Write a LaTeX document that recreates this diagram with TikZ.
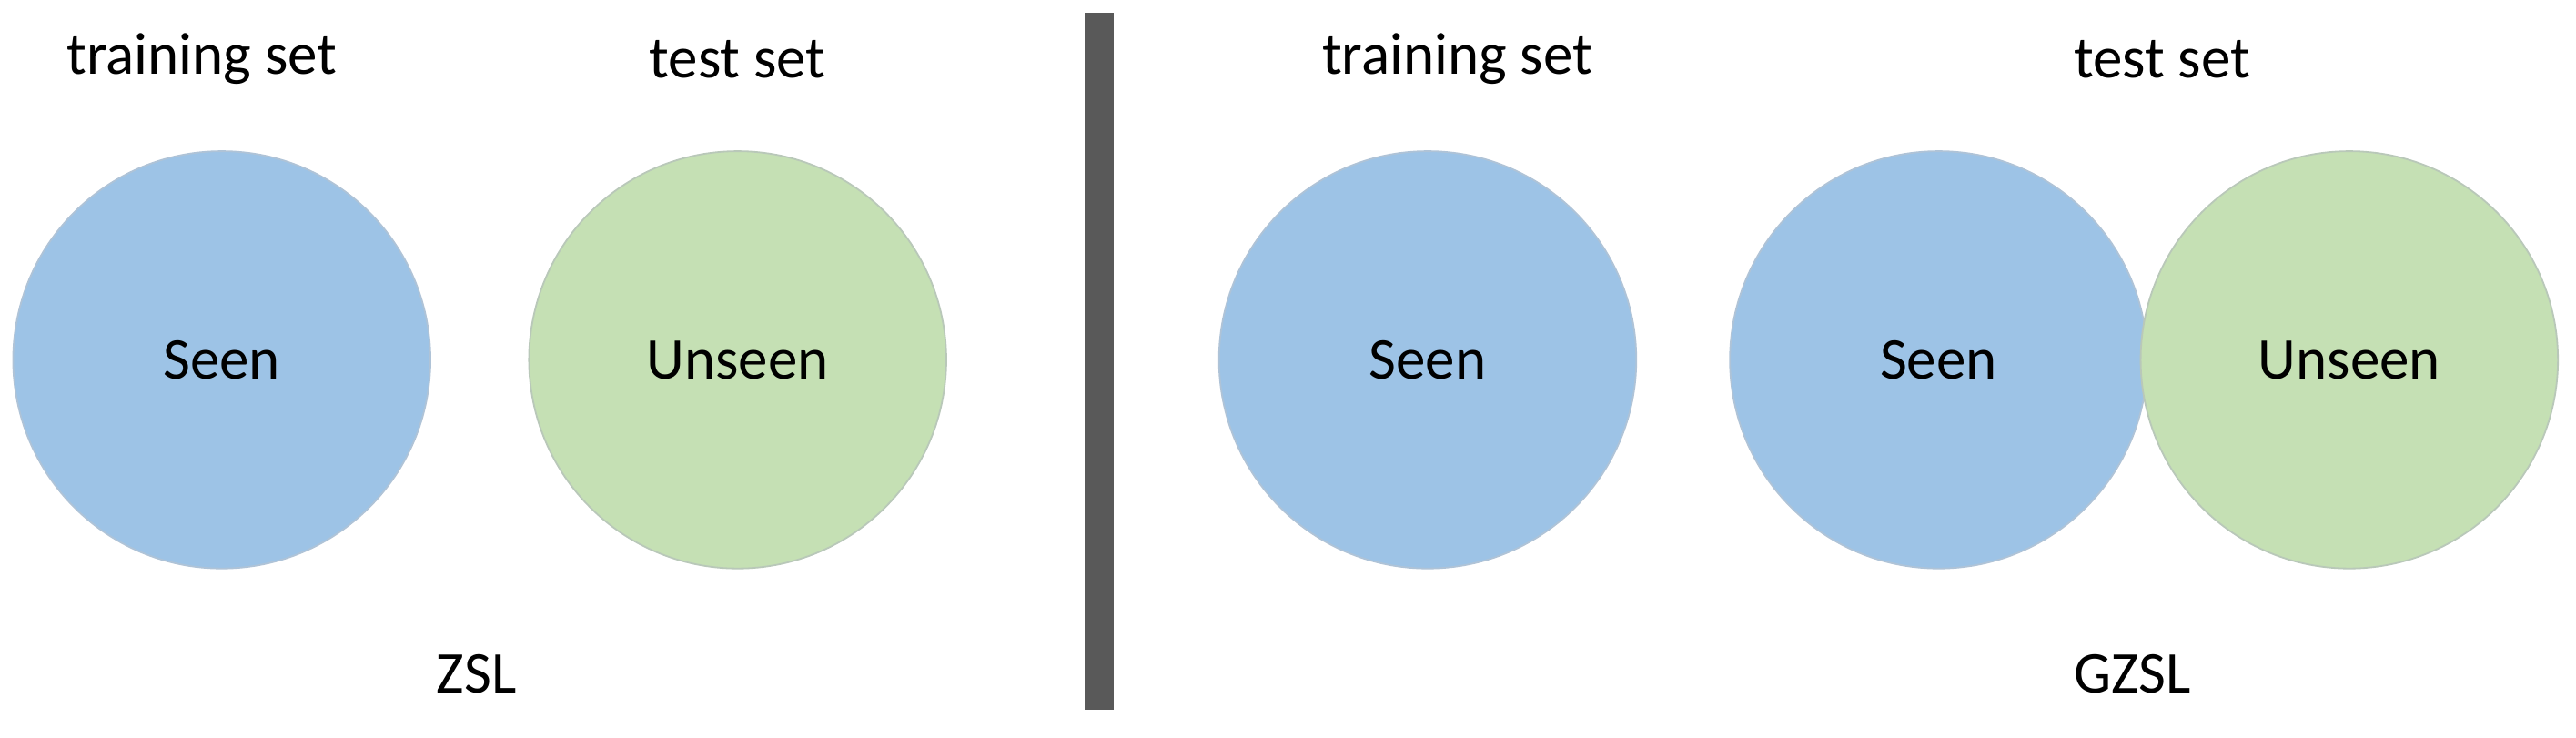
\documentclass[tikz,border=0pt]{standalone}
\usepackage{fontspec}
\setmainfont{Carlito}
\begin{document}
\begin{tikzpicture}[x=1pt,y=-1pt,
  lbl/.style={font=\fontsize{36}{40}\selectfont, inner sep=0pt},
  seen/.style={circle, minimum size=254pt, inner sep=0pt, fill={rgb,255:red,157;green,195;blue,230}, draw={rgb,255:red,175;green,195;blue,215}, line width=1pt, font=\fontsize{36}{40}\selectfont},
  unseen/.style={seen, fill={rgb,255:red,197;green,224;blue,180}, draw={rgb,255:red,185;green,200;blue,185}}]
\useasboundingbox (0,0) rectangle (1568,449);
\fill[fill={rgb,255:red,89;green,89;blue,89}] (660,8) rectangle (678,432);
\node[seen] (s1) at (135,219) {Seen};
\node[unseen] (u1) at (449,219) {Unseen};
\node[seen] (s2) at (869,219) {Seen};
\node[seen] (s3) at (1180,219) {Seen};
\node[unseen] (u2) at (1430,219) {Unseen};
\node[lbl] (t1) at (123,36) {training set};
\node[lbl] (t2) at (449,36) {test set};
\node[lbl] (t3) at (887,36) {training set};
\node[lbl] (t4) at (1316,36) {test set};
\node[lbl] (z) at (290,410) {ZSL};
\node[lbl] (g) at (1298,410) {GZSL};
\end{tikzpicture}
\end{document}
